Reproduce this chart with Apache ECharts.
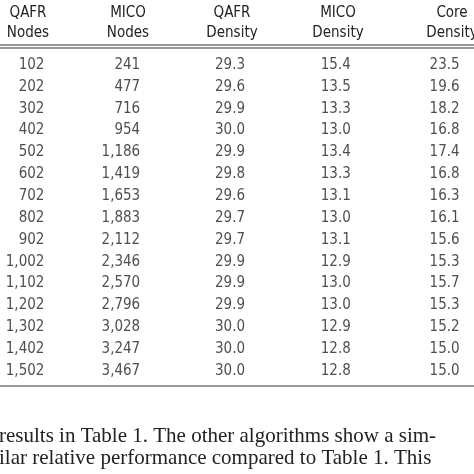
<!DOCTYPE html><html><head><meta charset="utf-8"><script src="https://cdn.jsdelivr.net/npm/echarts@6/dist/echarts.min.js"></script>
<style>html,body{margin:0;background:#fff}#c{width:474px;height:474px}</style></head><body><div id="c"></div><script>
const columns=['QAFR\nNodes','MICO\nNodes','QAFR\nDensity','MICO\nDensity','Core\nDensity'];
const qafrNodes=['102','202','302','402','502','602','702','802','902','1,002','1,102','1,202','1,302','1,402','1,502'];
const micoNodes=['241','477','716','954','1,186','1,419','1,653','1,883','2,112','2,346','2,570','2,796','3,028','3,247','3,467'];
const qafrDensity=['29.3','29.6','29.9','30.0','29.9','29.8','29.6','29.7','29.7','29.9','29.9','29.9','30.0','30.0','30.0'];
const micoDensity=['15.4','13.5','13.3','13.0','13.4','13.3','13.1','13.0','13.1','12.9','13.0','13.0','12.9','12.8','12.8'];
const coreDensity=['23.5','19.6','18.2','16.8','17.4','16.8','16.3','16.1','15.6','15.3','15.7','15.3','15.2','15.0','15.0'];
const paragraph=['results in Table 1. The other algorithms show a sim-','ilar relative performance compared to Table 1. This'];
const cols=[qafrNodes,micoNodes,qafrDensity,micoDensity,coreDensity];
const offsets=[-3,-2,8,19,33];
const hdrX=[28,128,232,338,452];
const F='"Liberation Sans Narrow","DejaVu Sans Condensed",sans-serif';
const chart=echarts.init(document.getElementById('c'));
const series=cols.map((arr,ci)=>({type:'scatter',symbolSize:0,silent:true,
 data:arr.map((v,ri)=>[ci,ri,v]),
 label:{show:true,position:'inside',formatter:p=>p.data[2],align:'right',offset:[offsets[ci],0],fontFamily:F,fontSize:15,color:'#222'}}));
const g=[];
columns.forEach((c,i)=>g.push({type:'text',x:hdrX[i],y:3,style:{text:c,fontFamily:F,fontSize:15,fill:'#222',align:'center',textAlign:'center',lineHeight:20}}));
g.push({type:'line',shape:{x1:0,y1:45,x2:474,y2:45},style:{stroke:'#333',lineWidth:1}});
g.push({type:'line',shape:{x1:0,y1:48,x2:474,y2:48},style:{stroke:'#333',lineWidth:1}});
g.push({type:'line',shape:{x1:0,y1:386,x2:474,y2:386},style:{stroke:'#333',lineWidth:1.2}});
paragraph.forEach((t,i)=>g.push({type:'text',x:-1,y:426+i*22,style:{text:t,fontFamily:'"Liberation Serif",serif',fontSize:21,fill:'#222'}}));
chart.setOption({animation:false,grid:{left:0,right:0,top:54,bottom:92},
 xAxis:{type:'category',data:columns,show:false},
 yAxis:{type:'category',inverse:true,data:qafrNodes,show:false},
 series,graphic:g});
</script></body></html>
